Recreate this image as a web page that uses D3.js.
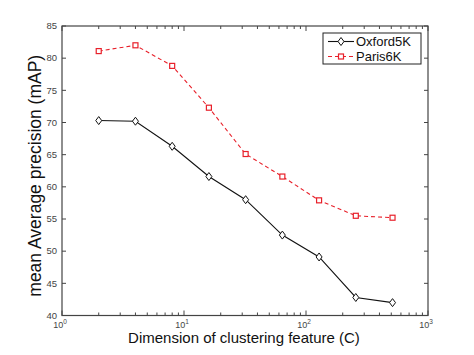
<!DOCTYPE html>
<html><head><meta charset="utf-8">
<script src="https://cdn.jsdelivr.net/npm/d3@7"></script>
<style>body{margin:0;background:#fff}svg{display:block}</style>
</head><body>
<svg id="c" width="474" height="355"></svg>
<script>
const dims = [2, 4, 8, 16, 32, 64, 128, 256, 512];
const oxford = [70.3, 70.2, 66.3, 61.6, 58.0, 52.5, 49.1, 42.8, 42.0];
const paris = [81.1, 82.0, 78.8, 72.3, 65.1, 61.6, 57.9, 55.5, 55.2];
const yTicks = [40, 45, 50, 55, 60, 65, 70, 75, 80, 85];
const xTickExps = [0, 1, 2, 3];
const seriesNames = ["Oxford5K", "Paris6K"];

const svg = d3.select("#c");
const L = 62, R = 428, T = 26, B = 315.5;
const x = d3.scaleLog().domain([1, 1000]).range([L, R]);
const y = d3.scaleLinear().domain([40, 85]).range([B, T]);
const axisCol = "#444";
const font = "Liberation Sans, Arial, sans-serif";

svg.append("rect").attr("x", L).attr("y", T).attr("width", R - L).attr("height", B - T)
  .attr("fill", "none").attr("stroke", axisCol).attr("stroke-width", 1.2);

const minor = [];
for (let e = 0; e < 3; e++) for (let m = 2; m <= 9; m++) minor.push(m * Math.pow(10, e));
const g = svg.append("g").attr("stroke", axisCol).attr("stroke-width", 1);
xTickExps.forEach(e => {
  const px = x(Math.pow(10, e));
  g.append("line").attr("x1", px).attr("x2", px).attr("y1", B).attr("y2", B - 5);
  g.append("line").attr("x1", px).attr("x2", px).attr("y1", T).attr("y2", T + 5);
});
minor.forEach(v => {
  const px = x(v);
  g.append("line").attr("x1", px).attr("x2", px).attr("y1", B).attr("y2", B - 3);
  g.append("line").attr("x1", px).attr("x2", px).attr("y1", T).attr("y2", T + 3);
});
yTicks.forEach(v => {
  const py = y(v);
  g.append("line").attr("x1", L).attr("x2", L + 4).attr("y1", py).attr("y2", py);
  g.append("line").attr("x1", R).attr("x2", R - 4).attr("y1", py).attr("y2", py);
});

svg.append("g").selectAll("text").data(yTicks).join("text")
  .attr("x", L - 5).attr("y", d => y(d)).attr("dy", "0.35em")
  .attr("text-anchor", "end").attr("font-family", font).attr("font-size", 9.5)
  .attr("fill", "#444").text(d => d);

const xl = svg.append("g");
xTickExps.forEach(e => {
  const t = xl.append("text").attr("x", x(Math.pow(10, e)) - 2).attr("y", B + 12)
    .attr("text-anchor", "middle").attr("font-family", font).attr("font-size", 9).attr("fill", "#444");
  t.append("tspan").text("10");
  t.append("tspan").attr("dy", -4).attr("font-size", 6.5).text(e);
});

svg.append("text").attr("x", 244).attr("y", 343).attr("text-anchor", "middle")
  .attr("font-family", font).attr("font-size", 15).attr("fill", "#111")
  .text("Dimension of clustering feature (C)");
svg.append("text").attr("transform", `translate(41,${(T + B) / 2 + 5}) rotate(-90)`)
  .attr("text-anchor", "middle").attr("font-family", font).attr("font-size", 17.5).attr("fill", "#111")
  .text("mean Average precision (mAP)");

const line = d3.line().x(d => x(d[0])).y(d => y(d[1]));
const oxData = dims.map((d, i) => [d, oxford[i]]);
const paData = dims.map((d, i) => [d, paris[i]]);
const red = "#e8202a";
svg.append("path").datum(oxData).attr("d", line).attr("fill", "none").attr("stroke", "#111").attr("stroke-width", 1.1);
svg.append("path").datum(paData).attr("d", line).attr("fill", "none").attr("stroke", red)
  .attr("stroke-width", 1.1).attr("stroke-dasharray", "4,3");

function diamond(sel, cx, cy) {
  sel.append("path").attr("d", `M${cx},${cy - 4}L${cx + 3},${cy}L${cx},${cy + 4}L${cx - 3},${cy}Z`)
    .attr("fill", "#fff").attr("stroke", "#111").attr("stroke-width", 1);
}
function square(sel, cx, cy) {
  sel.append("rect").attr("x", cx - 2.5).attr("y", cy - 2.5).attr("width", 5).attr("height", 5)
    .attr("fill", "#fff").attr("stroke", red).attr("stroke-width", 1.2);
}
const mk = svg.append("g");
oxData.forEach(d => diamond(mk, x(d[0]), y(d[1])));
paData.forEach(d => square(mk, x(d[0]), y(d[1])));

const lg = svg.append("g");
lg.append("rect").attr("x", 323).attr("y", 33).attr("width", 98).attr("height", 31)
  .attr("fill", "#fff").attr("stroke", "#222").attr("stroke-width", 1);
lg.append("line").attr("x1", 328).attr("x2", 354).attr("y1", 41.5).attr("y2", 41.5).attr("stroke", "#111").attr("stroke-width", 1.1);
diamond(lg, 341, 41.5);
lg.append("line").attr("x1", 328).attr("x2", 354).attr("y1", 56.5).attr("y2", 56.5).attr("stroke", red)
  .attr("stroke-width", 1.1).attr("stroke-dasharray", "4,3");
square(lg, 341, 56.5);
lg.selectAll("text.lab").data(seriesNames).join("text")
  .attr("x", 356).attr("y", (d, i) => 46 + i * 15).attr("font-family", font)
  .attr("font-size", 13).attr("fill", "#111").text(d => d);
</script>
</body></html>
